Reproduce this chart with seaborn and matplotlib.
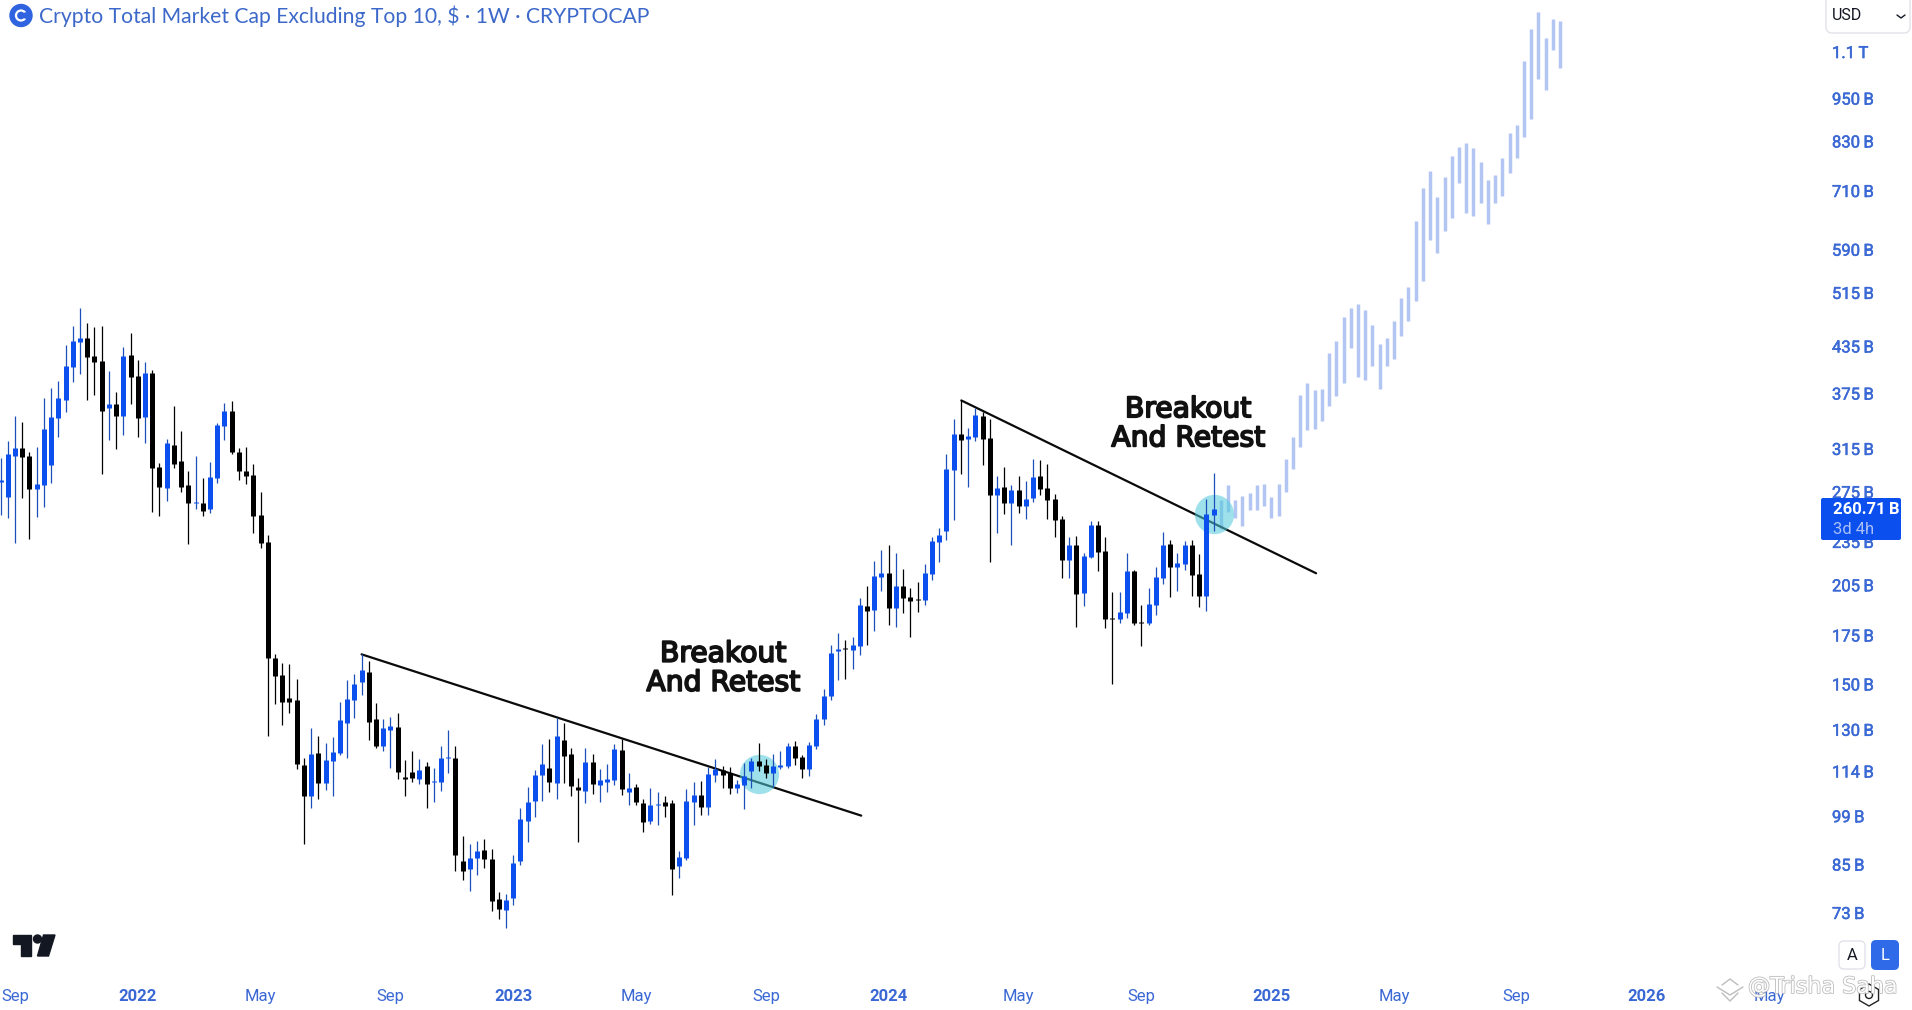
import numpy as np
import pandas as pd
import matplotlib.pyplot as plt
import matplotlib.patheffects as pe
from matplotlib.patches import Circle, FancyBboxPatch, Polygon, RegularPolygon
from matplotlib.ticker import FixedLocator, FixedFormatter, NullLocator
import seaborn as sns

# weekly candles, values in billions of USD
candle_high = [
    306.3, 322.9, 349.3, 342.9, 311.5, 316.9, 369.9, 381.8, 390.2, 437.0,
    463.8, 491.0, 468.3, 462.7, 463.8, 402.7, 376.6, 434.2, 454.1, 416.9,
    414.3, 403.9, 301.3, 324.9, 360.6, 333.2, 293.9, 307.9, 287.4, 302.2,
    341.9, 364.1, 366.3, 315.9, 316.9, 300.4, 274.9, 240.3, 165.0, 160.3,
    160.0, 152.6, 119.0, 130.8, 127.5, 124.7, 127.1, 141.9, 152.1, 155.1,
    164.9, 161.5, 141.4, 134.5, 135.4, 137.1, 118.2, 121.6, 118.6, 117.5,
    115.2, 123.6, 130.0, 123.6, 93.0, 90.7, 91.6, 92.1, 89.3, 78.0,
    77.5, 87.7, 101.6, 108.6, 114.5, 124.3, 126.3, 134.8, 132.9, 122.8,
    111.7, 122.8, 120.5, 114.9, 116.7, 124.3, 126.3, 113.5, 109.6, 104.6,
    108.3, 106.9, 105.6, 104.2, 88.8, 107.9, 110.3, 110.6, 115.6, 118.6,
    116.0, 115.7, 111.0, 117.1, 119.0, 124.7, 118.5, 120.4, 121.6, 124.7,
    125.5, 120.1, 125.1, 136.6, 147.9, 169.8, 176.4, 172.6, 174.2, 197.0,
    204.6, 221.4, 229.1, 232.8, 227.0, 215.9, 203.3, 207.1, 219.2, 238.8,
    245.6, 310.1, 346.3, 367.2, 336.6, 358.5, 353.9, 346.3, 289.3, 297.6,
    281.2, 289.3, 284.7, 305.2, 304.0, 300.4, 273.4, 255.0, 238.8, 239.5,
    227.0, 250.9, 250.9, 238.8, 200.8, 200.8, 227.0, 215.2, 192.7, 203.3,
    217.2, 242.5, 236.5, 227.0, 235.8, 236.5, 226.3, 269.1, 291.6,
]
candle_low = [
    255.8, 253.6, 234.2, 269.9, 237.2, 254.1, 262.2, 282.9, 326.9, 353.8,
    389.0, 399.0, 367.4, 373.3, 291.4, 323.8, 314.9, 329.0, 363.0, 326.9,
    320.9, 258.2, 254.9, 267.4, 296.6, 274.9, 233.4, 260.5, 254.9, 257.4,
    282.9, 323.8, 309.9, 285.6, 282.0, 241.7, 230.5, 127.5, 141.0, 132.0,
    137.1, 114.9, 90.7, 101.6, 104.6, 107.6, 105.6, 120.1, 119.0, 135.0,
    145.1, 125.9, 122.8, 121.6, 115.2, 111.4, 105.6, 110.3, 109.6, 101.6,
    103.5, 107.2, 113.5, 83.3, 81.0, 78.3, 82.3, 84.1, 73.5, 71.6,
    69.7, 74.9, 85.0, 91.3, 98.8, 103.9, 106.9, 104.6, 110.0, 105.6,
    91.3, 103.2, 106.2, 103.5, 106.9, 109.3, 106.0, 102.6, 102.6, 94.2,
    96.6, 96.3, 98.8, 77.3, 81.5, 86.3, 96.3, 99.4, 99.4, 110.3,
    108.2, 106.2, 106.5, 101.3, 108.2, 114.1, 111.7, 108.5, 115.0, 115.3,
    116.4, 111.7, 112.4, 122.4, 132.0, 142.9, 152.1, 152.6, 157.5, 164.7,
    169.9, 177.5, 201.4, 180.9, 179.7, 187.8, 174.2, 188.4, 192.7, 208.4,
    220.6, 236.5, 251.9, 291.1, 279.5, 323.1, 299.5, 220.6, 241.8, 256.7,
    232.8, 257.5, 252.7, 266.6, 272.5, 252.7, 238.8, 209.8, 209.8, 179.7,
    192.1, 223.5, 214.5, 179.2, 150.2, 182.0, 184.9, 180.9, 169.4, 180.9,
    186.6, 205.9, 197.6, 201.4, 215.2, 198.2, 191.3, 189.0, 243.3,
]
body_top = [
    285.6, 309.9, 315.9, 315.9, 307.9, 282.0, 335.3, 348.2, 369.9, 409.1,
    442.5, 446.7, 446.7, 422.3, 415.6, 363.0, 363.0, 422.3, 423.6, 396.4,
    400.1, 400.1, 297.5, 320.9, 318.9, 303.1, 281.1, 266.7, 265.9, 288.3,
    339.6, 355.0, 355.0, 311.9, 293.9, 290.1, 255.8, 235.0, 163.0, 154.6,
    143.7, 142.8, 116.4, 120.5, 120.8, 118.2, 121.2, 134.1, 143.3, 150.2,
    157.0, 156.0, 134.5, 130.8, 131.6, 131.2, 112.1, 113.8, 114.5, 116.0,
    110.6, 119.0, 119.5, 119.0, 86.0, 86.8, 88.8, 89.0, 86.6, 76.3,
    76.1, 85.5, 98.1, 103.5, 112.8, 116.7, 115.2, 127.5, 125.9, 120.5,
    108.6, 117.5, 117.5, 111.0, 111.4, 122.4, 122.0, 108.3, 108.6, 103.2,
    102.6, 102.9, 103.5, 103.2, 87.1, 103.9, 105.9, 105.9, 113.1, 114.9,
    114.5, 113.4, 109.6, 112.4, 117.8, 117.8, 116.4, 116.0, 116.4, 123.6,
    123.6, 119.3, 124.0, 134.5, 144.7, 165.6, 167.8, 168.3, 169.9, 192.7,
    192.1, 211.1, 213.1, 213.1, 204.6, 204.6, 197.6, 196.4, 213.1, 235.8,
    240.3, 295.8, 330.3, 330.3, 328.2, 350.6, 349.5, 326.2, 278.6, 279.5,
    276.8, 276.8, 269.1, 288.4, 289.3, 278.6, 269.1, 252.7, 232.8, 232.8,
    224.9, 248.0, 248.0, 228.4, 184.9, 188.4, 214.5, 214.5, 182.6, 193.3,
    210.4, 232.8, 233.5, 219.9, 232.8, 232.8, 212.5, 256.7, 260.7,
]
body_bottom = [
    283.8, 271.0, 307.9, 306.9, 277.5, 277.5, 281.1, 299.4, 347.1, 367.4,
    407.8, 441.2, 421.0, 414.3, 355.0, 358.4, 349.3, 349.3, 395.2, 347.1,
    348.2, 296.6, 279.3, 278.4, 300.4, 279.3, 265.9, 265.9, 259.1, 260.5,
    287.4, 338.7, 311.9, 293.9, 289.2, 254.9, 234.2, 163.0, 154.1, 142.0,
    142.0, 116.7, 105.6, 105.6, 110.0, 110.0, 117.9, 120.8, 132.9, 142.8,
    151.2, 133.3, 123.6, 123.6, 130.0, 113.8, 111.4, 111.7, 111.4, 109.6,
    110.3, 110.3, 119.0, 87.7, 83.3, 83.9, 86.8, 86.6, 75.9, 74.0,
    73.7, 76.6, 86.0, 97.5, 103.9, 112.8, 110.3, 110.0, 119.7, 108.9,
    107.6, 107.2, 109.6, 109.3, 110.3, 111.0, 107.9, 106.9, 103.5, 97.2,
    97.5, 102.6, 102.3, 83.9, 84.7, 86.8, 103.5, 102.0, 102.0, 112.8,
    112.7, 108.2, 108.2, 109.3, 114.1, 116.0, 113.4, 113.4, 115.7, 116.0,
    119.0, 115.0, 115.0, 123.6, 134.5, 144.7, 166.7, 167.8, 167.3, 169.4,
    189.0, 189.6, 210.4, 191.0, 191.0, 197.0, 195.1, 195.8, 195.8, 212.5,
    235.0, 243.3, 294.8, 324.2, 325.2, 327.2, 325.2, 272.5, 272.5, 265.8,
    265.8, 263.3, 263.3, 269.9, 277.7, 268.2, 251.9, 222.1, 222.1, 199.5,
    200.1, 224.2, 227.7, 184.3, 184.3, 184.3, 187.8, 182.0, 182.0, 182.0,
    192.7, 209.8, 217.2, 217.2, 219.2, 211.8, 198.2, 198.2, 255.9,
]
candle_up = [
    1, 1, 1, 0, 0, 1, 1, 1, 1, 1,
    1, 1, 0, 0, 0, 1, 0, 1, 0, 0,
    1, 0, 0, 1, 0, 0, 0, 1, 0, 1,
    1, 1, 0, 0, 0, 0, 0, 0, 0, 0,
    0, 0, 0, 1, 0, 1, 1, 1, 1, 1,
    1, 0, 0, 1, 1, 0, 0, 0, 1, 0,
    1, 1, 1, 0, 0, 1, 1, 0, 0, 0,
    1, 1, 1, 1, 1, 1, 0, 1, 0, 0,
    0, 1, 0, 1, 1, 1, 0, 1, 0, 0,
    1, 1, 0, 0, 1, 1, 1, 0, 1, 1,
    0, 0, 1, 1, 1, 0, 0, 1, 1, 1,
    0, 0, 1, 1, 1, 1, 1, 0, 1, 1,
    0, 1, 1, 0, 1, 0, 0, 0, 1, 1,
    1, 1, 1, 0, 1, 1, 0, 0, 1, 0,
    1, 0, 1, 1, 0, 0, 0, 0, 1, 0,
    1, 1, 0, 0, 0, 1, 1, 0, 0, 1,
    1, 1, 0, 1, 1, 0, 0, 1, 1,
]

# the pale projected bars after the last candle
ghost_high = [
    268.0, 280.9, 268.0, 271.7, 274.4, 280.9, 281.8, 270.8, 281.8, 304.8,
    327.1, 373.8, 387.9, 378.8, 380.0, 426.0, 442.5, 477.1, 490.4, 497.7,
    487.4, 465.4, 439.0, 446.3, 471.3, 507.0, 524.2, 645.8, 716.0, 756.0,
    697.0, 741.9, 793.6, 816.0, 826.9, 813.2, 777.2, 735.0, 746.6, 786.6,
    851.9, 873.9, 1068.0, 1182.0, 1246.6, 1151.0, 1220.0, 1212.0,
]
ghost_low = [
    244.6, 258.6, 253.2, 247.0, 260.2, 260.2, 263.3, 253.2, 254.7, 275.4,
    296.0, 317.2, 334.8, 335.9, 344.0, 361.0, 372.5, 387.9, 433.1, 395.2,
    391.5, 409.0, 381.0, 409.0, 417.7, 449.3, 471.3, 502.1, 534.5, 607.6,
    584.3, 626.2, 651.8, 727.8, 661.9, 655.8, 684.0, 640.0, 684.0, 699.4,
    751.3, 786.6, 840.8, 890.5, 1010.0, 975.0, 1107.0, 1046.0,
]

# trend lines, as (bar, price) ends
trend_bars = [[50.0, 119.2], [133.06, 182.2]]
trend_prices = [[164.9, 99.2], [367.0, 212.9]]

retest_bars = [105.08, 168.1]
retest_prices = [113.0, 257.0]

y_ticks = [1100, 950, 830, 710, 590, 515, 435, 375, 315, 275, 235, 205, 175, 150, 130, 114, 99, 85, 73]
x_tick_months = ["2021-09", "2022-01", "2022-05", "2022-09", "2023-01", "2023-05", "2023-09", "2024-01",
                 "2024-05", "2024-09", "2025-01", "2025-05", "2025-09", "2026-01", "2026-05"]
x_tick_labels = ["Sep", "2022", "May", "Sep", "2023", "May", "Sep", "2024",
                 "May", "Sep", "2025", "May", "Sep", "2026", "May"]

BLUE = "#0b50ee"
TEXT_BLUE = "#3a68d4"
GHOST = "#b3c5f3"
W, H = 1912, 1010
PLOT_W, PLOT_H = 1825, 965
FONT = ["Roboto", "DejaVu Sans"]

sns.set_theme(style="white")
plt.rcParams["font.family"] = FONT

fig = plt.figure(figsize=(W / 100, H / 100), dpi=100, facecolor="white")
ax = fig.add_axes([0, 1 - PLOT_H / H, PLOT_W / W, PLOT_H / H])
ax.set_yscale("log")

n_candles = len(candle_high)
n_ghost = len(ghost_high)
bars = np.arange(n_candles)
ghost_bars = np.arange(n_candles, n_candles + n_ghost)
side = np.where(np.array(candle_up) == 1, "up", "down")
palette = {"up": BLUE, "down": "black"}
wick_palette = {"up": "#1c50b8", "down": "black"}

wicks = pd.DataFrame({
    "bar": np.tile(bars, 2),
    "price": candle_high + candle_low,
    "side": np.tile(side, 2),
})
bodies = pd.DataFrame({
    "bar": np.tile(bars, 2),
    "price": body_top + body_bottom,
    "side": np.tile(side, 2),
})
ghosts = pd.DataFrame({
    "bar": np.tile(ghost_bars, 2),
    "price": ghost_high + ghost_low,
})

sns.lineplot(data=ghosts, x="bar", y="price", units="bar", estimator=None, color=GHOST,
             linewidth=2.5, solid_capstyle="butt", legend=False, ax=ax, zorder=2)

for tb, tp in zip(trend_bars, trend_prices):
    ax.plot(tb, tp, color="#0a0a0a", linewidth=1.6, solid_capstyle="round", zorder=2.5)

ax.scatter(retest_bars, retest_prices, s=800, color="#4fcadc", alpha=0.55, linewidths=0, zorder=3)

sns.lineplot(data=wicks, x="bar", y="price", units="bar", hue="side", palette=wick_palette, estimator=None,
             linewidth=0.9, solid_capstyle="butt", legend=False, ax=ax, zorder=4)
sns.lineplot(data=bodies, x="bar", y="price", units="bar", hue="side", palette=palette, estimator=None,
             linewidth=3.6, solid_capstyle="butt", legend=False, ax=ax, zorder=5)

for bar, price in [(100.1, 157.8), (164.5, 341.0)]:
    ax.text(bar, price, "Breakout\nAnd Retest", ha="center", va="center", fontsize=20.3,
            family="DejaVu Sans", color="#111111", linespacing=1.05, zorder=6,
            path_effects=[pe.withStroke(linewidth=1.3, foreground="#111111")])

# axis limits come from the pixel grid of the chart: 7.22 px per bar
ax.set_xlim(-0.6 / 7.22, (PLOT_W - 0.6) / 7.22)
ax.set_ylim(61.96, 1296)
ax.set_xlabel("")
ax.set_ylabel("")

dates = pd.date_range("2021-08-23", periods=260, freq="7D")
x_ticks = [int(dates.searchsorted(pd.Timestamp(m + "-01"))) for m in x_tick_months]
ax.xaxis.set_major_locator(FixedLocator(x_ticks))
ax.xaxis.set_major_formatter(FixedFormatter(x_tick_labels))
ax.yaxis.tick_right()
y_labels = ["1.1\u2009T" if v >= 1000 else f"{v}\u2009B" for v in y_ticks]
ax.yaxis.set_major_locator(FixedLocator(y_ticks))
ax.yaxis.set_major_formatter(FixedFormatter(y_labels))
ax.yaxis.set_minor_locator(NullLocator())
ax.tick_params(axis="x", length=0, pad=17, labelsize=12, labelcolor=TEXT_BLUE)
ax.tick_params(axis="y", length=0, pad=5, labelsize=12, labelcolor=TEXT_BLUE)
for lab, txt in zip(ax.get_xticklabels(), x_tick_labels):
    lab.set_fontweight("bold" if txt.isdigit() else "normal")
for lab in ax.get_yticklabels():
    lab.set_path_effects([pe.withStroke(linewidth=0.35, foreground=TEXT_BLUE)])
sns.despine(ax=ax, left=True, right=True, top=True, bottom=True)

# screen furniture, drawn in pixel coordinates on top of the chart
ui = fig.add_axes([0, 0, 1, 1], facecolor="none")
ui.set_xlim(0, W)
ui.set_ylim(H, 0)
ui.axis("off")

ui.add_patch(Circle((21, 15.5), 11, color="#2f63e0"))
ui.add_patch(Circle((21, 15.5), 5, fill=False, edgecolor="white", linewidth=1.6))
ui.add_patch(Circle((26, 15.5), 2.6, color="#2f63e0"))
ui.text(39, 16, "Crypto Total Market Cap Excluding Top 10, $ \u00b7 1W \u00b7 CRYPTOCAP", va="center", ha="left",
        fontsize=15.2, color="#3c69c9", family=["Lato", "DejaVu Sans"])

ui.add_patch(FancyBboxPatch((1826, -6), 84, 39, boxstyle="round,pad=0,rounding_size=6",
                            facecolor="white", edgecolor="#e0e3eb", linewidth=1))
ui.text(1832, 15, "USD", va="center", ha="left", fontsize=11.5, color="#131722")
ui.plot([1897, 1901, 1905], [15, 18, 15], color="#131722", linewidth=1)

ui.add_patch(FancyBboxPatch((1821, 498), 80, 42, boxstyle="round,pad=0,rounding_size=2",
                            facecolor=BLUE, edgecolor="none"))
ui.text(1833, 510, "260.71\u2009B", va="center", ha="left", fontsize=12, color="white", fontweight="bold")
ui.text(1833, 529, "3d 4h", va="center", ha="left", fontsize=12, color="#a9bff5")

ui.add_patch(FancyBboxPatch((1839, 941), 26, 28, boxstyle="round,pad=0,rounding_size=5",
                            facecolor="white", edgecolor="#e0e3eb", linewidth=1))
ui.text(1852, 955, "A", va="center", ha="center", fontsize=12, color="#131722")
ui.add_patch(FancyBboxPatch((1871, 940), 28, 30, boxstyle="round,pad=0,rounding_size=5",
                            facecolor="#2f6be8", edgecolor="none"))
ui.text(1885, 955, "L", va="center", ha="center", fontsize=12, color="white")

# tradingview mark
ui.add_patch(Polygon([(13, 935), (31, 935), (31, 956), (21, 956), (21, 943.5), (13, 943.5)], color="#131722"))
ui.add_patch(Circle((37.5, 939), 4, color="#131722"))
ui.add_patch(Polygon([(43.5, 935), (55, 935), (48.5, 956), (37.5, 956)], color="#131722"))

# watermark
grey = "#bdbdbd"
ui.plot([1717, 1730, 1743], [987, 995, 987], color=grey, linewidth=1)
ui.plot([1722, 1730, 1738], [985, 979, 985], color=grey, linewidth=1)
ui.plot([1722, 1730, 1738], [993, 1001, 993], color=grey, linewidth=1)
ui.text(1748, 987, "@Trisha Saha", va="center", ha="left", fontsize=16, color="white", family="DejaVu Sans",
        path_effects=[pe.withStroke(linewidth=1.2, foreground=grey)])
ui.add_patch(RegularPolygon((1869, 995), 6, radius=11, fill=False, edgecolor="#222222", linewidth=1))
ui.add_patch(Circle((1869, 995), 3.5, fill=False, edgecolor="#222222", linewidth=1))

fig.savefig("out.png", dpi=100, facecolor="white")
